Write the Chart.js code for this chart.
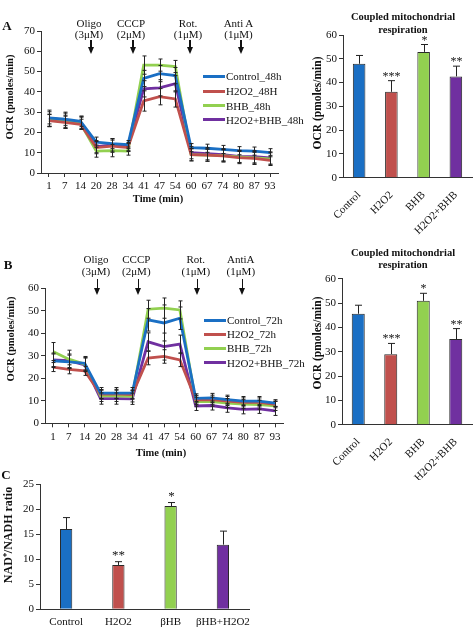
<!DOCTYPE html>
<html><head><meta charset="utf-8">
<script src="https://cdn.jsdelivr.net/npm/chart.js@4.4.1/dist/chart.umd.min.js"></script>
<style>
html,body{margin:0;padding:0;background:#fff;}
#root{position:relative;width:474px;height:629px;overflow:hidden;font-family:"Liberation Serif","Times New Roman",serif;color:#111;}
canvas{position:absolute;}
.t{position:absolute;white-space:nowrap;line-height:1;transform:translate(-50%,-50%);}
.rot{transform:translate(-50%,-50%) rotate(-90deg);}
.b{font-weight:bold;}
.stem{position:absolute;background:#111;width:1.6px;}
.head{position:absolute;width:0;height:0;border-left:3.5px solid transparent;border-right:3.5px solid transparent;border-top:7px solid #111;}
.lg{position:absolute;height:3px;}
.lt{position:absolute;white-space:nowrap;line-height:1;font-size:11px;transform:translateY(-50%);}
</style>
</head><body><div id="root">
<canvas id="lineA" width="300" height="210" style="left:0;top:0;width:300px;height:210px"></canvas>
<canvas id="barA" width="184" height="220" style="left:290px;top:25px;width:184px;height:220px"></canvas>
<canvas id="lineB" width="300" height="225" style="left:0;top:235px;width:300px;height:225px"></canvas>
<canvas id="barB" width="184" height="215" style="left:290px;top:265px;width:184px;height:215px"></canvas>
<canvas id="barC" width="300" height="154" style="left:0;top:475px;width:300px;height:154px"></canvas>
</div>
<script>
// ---------- DATA ----------
const timeLabels = ['1','7','14','20','28','34','41','47','54','60','67','74','80','87','93'];
const namesA = ['Control_48h','H2O2_48H','BHB_48h','H2O2+BHB_48h'];
const namesB = ['Control_72h','H2O2_72h','BHB_72h','H2O2+BHB_72h'];

const controlA   = [27.2,26.5,25.5,15.2,14.5,14.0,46.6,49.0,48.0,12.5,12.2,11.6,11.0,10.8,10.0];
const h2o2A      = [25.8,25.0,24.0,12.5,13.2,12.6,35.5,37.6,36.5, 9.0, 8.8, 8.4, 7.6, 7.2, 6.2];
const bhbA       = [26.0,25.5,24.5,10.8,11.0,10.8,53.2,53.2,52.5, 9.0, 8.8, 8.6, 8.0, 7.5, 7.0];
const h2o2bhbA   = [27.0,26.0,25.0,13.0,13.8,13.0,41.5,42.0,44.0,10.0, 9.5, 9.0, 8.2, 8.0, 7.4];
const controlAErr= [3,3,2.5,2.5,2.5,2,4,4,4,2,2,2,2,2,2];
const h2o2AErr   = [3,3,2.5,3,3,2,5,4,4,3,3,3,3,3,2.5];
const bhbAErr    = [3,3,3,3,3,2,4.5,3,3,3,3,3,3,3,3];
const h2o2bhbAErr= [4,4,3,3,3,2,4,4,4,3,3,3,3,3,3];

const controlB   = [27.8,27.3,26.7,13.4,13.4,13.4,46.0,44.6,46.7,11.1,11.3,10.5,9.9,9.9,9.0];
const h2o2B      = [25.0,24.0,23.3,13.0,13.1,12.8,29.0,29.7,28.2,10.4,10.5,9.9,9.3,9.3,8.4];
const bhbB       = [31.9,28.5,26.3,12.2,12.2,12.0,50.7,51.2,50.4,9.6,9.6,9.0,8.5,8.3,7.7];
const h2o2bhbB   = [28.2,27.8,26.0,11.0,11.0,10.9,36.2,34.1,35.2,7.7,7.9,6.9,6.2,6.4,5.5];
const controlBErr= [3,3,3,2.5,2.5,2.5,5,8,5,2,2,2,2,2,1.5];
const h2o2BErr   = [2,2,2,2,2,2,3,3,3,2,2,2,2,2,1.5];
const bhbBErr    = [4,4,3,2.5,2.5,2.5,4,4.5,4,2,2,2,2,2,2];
const h2o2bhbBErr= [3,3,3,2.5,2.5,2.5,4,6,4,2,2,2,2,2,2];

const barLabels  = ['Control','H2O2','BHB','H2O2+BHB'];
const coupledA   = [47.9,36.1,52.9,42.6];
const coupledAErr= [3.5,4.7,3.1,4.3];
const coupledB   = [45.6,29.0,50.9,35.2];
const coupledBErr= [3.5,4.4,3.1,4.3];
const sigStars   = ['','***','*','**'];

const nadLabels  = ['Control','H2O2','\u03B2HB','\u03B2HB+H2O2'];
const nadRatio   = [16.0,8.85,20.6,12.9];
const nadErr     = [2.3,0.65,0.7,2.7];
const nadStars   = ['','**','*',''];

// ---------- STYLE ----------
const COLORS = ['#1a6fc4','#c0504d','#92d050','#7030a0'];
const SERIF = '"Liberation Serif","Times New Roman",serif';
Chart.defaults.font.family = SERIF;
Chart.defaults.color = '#111';

const errPlugin = {
  id:'errbars',
  afterDatasetsDraw(chart){
    const ctx = chart.ctx, ys = chart.scales.y;
    chart.data.datasets.forEach((ds,i)=>{
      if(!ds.err) return;
      const meta = chart.getDatasetMeta(i);
      meta.data.forEach((el,j)=>{
        const v = ds.data[j], e = ds.err[j];
        const x = Math.round(el.x)+0.5;
        const yT = ys.getPixelForValue(v+e);
        const yB = ds.upOnly ? ys.getPixelForValue(v) : ys.getPixelForValue(v-e);
        const cap = ds.cap || 2.5;
        ctx.save();
        ctx.strokeStyle = '#222'; ctx.lineWidth = 1;
        ctx.beginPath();
        ctx.moveTo(x,yT); ctx.lineTo(x,yB);
        ctx.moveTo(x-cap,yT); ctx.lineTo(x+cap,yT);
        if(!ds.upOnly){ ctx.moveTo(x-cap,yB); ctx.lineTo(x+cap,yB); }
        ctx.stroke();
        if(ds.stars && ds.stars[j]){
          ctx.fillStyle = '#111';
          ctx.font = (ds.starSize||12)+'px '+SERIF;
          ctx.textAlign = 'center'; ctx.textBaseline = 'alphabetic';
          ctx.fillText(ds.stars[j], x, yT - (ds.starGap||2));
        }
        ctx.restore();
      });
    });
  }
};

function axisCommon(size){
  return {
    grid:{display:true,drawOnChartArea:false,drawTicks:true,tickLength:4,color:'#333',offset:false},
    border:{display:true,color:'#333',width:1},
    ticks:{color:'#111',font:{family:SERIF,size:size||11},padding:2}
  };
}

function makeLine(id, series, errs, ymax, step, yW, xH, pad){
  const datasets = series.map((d,i)=>({
    data:d, err:errs[i], borderColor:COLORS[i], backgroundColor:COLORS[i],
    borderWidth:2.8, pointRadius:0, tension:0, fill:false, cap:2
  }));
  const xa = axisCommon(11);
  xa.offset = true;
  xa.ticks.maxRotation = 0; xa.ticks.autoSkip = false; xa.ticks.padding = 3;
  xa.afterFit = s=>{ s.height = xH; };
  const ya = axisCommon(11);
  ya.min = 0; ya.max = ymax; ya.ticks.stepSize = step;
  ya.afterFit = s=>{ s.width = yW; };
  return new Chart(document.getElementById(id),{
    type:'line',
    data:{labels:timeLabels, datasets},
    options:{responsive:false,animation:false,
      layout:{padding:pad},
      plugins:{legend:{display:false},tooltip:{enabled:false}},
      scales:{x:xa,y:ya}},
    plugins:[errPlugin]
  });
}

function makeBar(id, labels, vals, errs, stars, ymax, step, yW, xH, pad, barPct, rotate, starSize, starGap){
  const xa = {
    offset:true,
    grid:rotate ? {display:false} : {display:false,drawTicks:false,tickLength:0},
    border:{display:true,color:'#333',width:1},
    ticks:{color:'#111',font:{family:SERIF,size:11},padding:rotate?3:6,autoSkip:false,
      minRotation:rotate?45:0,maxRotation:rotate?45:0},
    afterFit:s=>{ s.height = xH; }
  };
  const ya = axisCommon(11);
  ya.min = 0; ya.max = ymax; ya.ticks.stepSize = step;
  ya.afterFit = s=>{ s.width = yW; };
  return new Chart(document.getElementById(id),{
    type:'bar',
    data:{labels, datasets:[{data:vals, err:errs, upOnly:true, stars, cap:3.5,
      starSize:starSize||12, starGap:starGap||2,
      backgroundColor:COLORS, borderColor:'#2a2a2a', borderWidth:1,
      barPercentage:barPct, categoryPercentage:1}]},
    options:{responsive:false,animation:false,
      layout:{padding:pad},
      plugins:{legend:{display:false},tooltip:{enabled:false}},
      scales:{x:xa,y:ya}},
    plugins:[errPlugin]
  });
}

makeLine('lineA',[controlA,h2o2A,bhbA,h2o2bhbA],[controlAErr,h2o2AErr,bhbAErr,h2o2bhbAErr],
  70,10,41,37,{left:0,right:22,top:31,bottom:0});
makeLine('lineB',[controlB,h2o2B,bhbB,h2o2bhbB],[controlBErr,h2o2BErr,bhbBErr,h2o2bhbBErr],
  60,10,45,36.7,{left:0,right:17,top:53.3,bottom:0});
makeBar('barA',barLabels,coupledA,coupledAErr,sigStars,60,10,53,67.3,{left:0,right:2,top:10,bottom:0},0.39,true,12,1);
makeBar('barB',barLabels,coupledB,coupledBErr,sigStars,60,10,52,55.3,{left:0,right:2,top:13.7,bottom:0},0.4,true,12,1);
makeBar('barC',nadLabels,nadRatio,nadErr,nadStars,25,5,40,19.7,{left:0,right:51,top:9,bottom:0},0.235,false,13,3);

// ---------- TEXT / ANNOTATIONS ----------
const root = document.getElementById('root');
function txt(s,x,y,size,bold,rot){
  const d=document.createElement('div');
  d.className='t'+(bold?' b':'')+(rot?' rot':'');
  d.style.left=x+'px'; d.style.top=y+'px'; d.style.fontSize=size+'px';
  d.textContent=s; root.appendChild(d);
}
function arrow(x,y1,y2){
  const s=document.createElement('div'); s.className='stem';
  s.style.left=(x-0.8)+'px'; s.style.top=y1+'px'; s.style.height=(y2-y1-6)+'px'; root.appendChild(s);
  const h=document.createElement('div'); h.className='head';
  h.style.left=(x-3.5)+'px'; h.style.top=(y2-7)+'px'; root.appendChild(h);
}
function legend(names,x,ys){
  names.forEach((n,i)=>{
    const l=document.createElement('div'); l.className='lg';
    l.style.left=x+'px'; l.style.top=(ys[i]-1.5)+'px'; l.style.width='22px'; l.style.background=COLORS[i];
    root.appendChild(l);
    const t=document.createElement('div'); t.className='lt';
    t.style.left=(x+23)+'px'; t.style.top=ys[i]+'px'; t.textContent=n; root.appendChild(t);
  });
}

// panel letters
txt('A',7,25,13,true); txt('B',8,264,13,true); txt('C',6,474,13,true);

// panel A annotations
[['Oligo','(3\u03BCM)',89,91],['CCCP','(2\u03BCM)',131,133],['Rot.','(1\u03BCM)',188,190],['Anti A','(1\u03BCM)',238.5,241]]
 .forEach(a=>{ txt(a[0],a[2],22.7,11); txt(a[1],a[2],34.3,11); arrow(a[3],40,54); });
// panel B annotations
[['Oligo','(3\u03BCM)',96,97.7],['CCCP','(2\u03BCM)',136.3,138.3],['Rot.','(1\u03BCM)',195.8,197.7],['AntiA','(1\u03BCM)',240.8,242.3]]
 .forEach(a=>{ txt(a[0],a[2],259.3,11); txt(a[1],a[2],270.7,11); arrow(a[3],279,295); });

legend(namesA,203,[76,91,105.5,119.5]);
legend(namesB,204,[320,334,348.3,362.7]);

// axis titles
txt('OCR (pmoles/min)',10,97,10.5,true,true);
txt('Time (min)',158,199,10.5,true);
txt('OCR (pmoles/min)',10.5,339,10.5,true,true);
txt('Time (min)',161,453,10.5,true);
txt('OCR (pmoles/min)',318,102.5,11.5,true,true);
txt('OCR (pmoles/min)',318.3,343,11.5,true,true);
txt('NAD\u207A/NADH ratio',8,535,12,true,true);

// bar titles
txt('Coupled mitochondrial',403,16.7,10.5,true); txt('respiration',403,30.3,10.5,true);
txt('Coupled mitochondrial',403,253.3,10.5,true); txt('respiration',403,265.3,10.5,true);
</script>
</body></html>
